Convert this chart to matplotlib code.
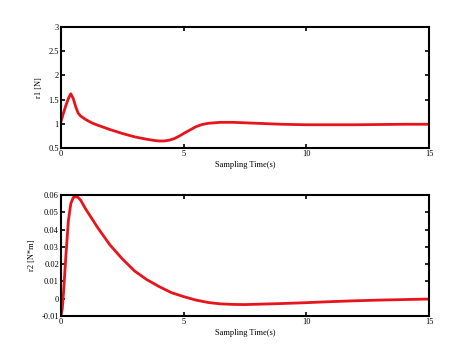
import matplotlib
matplotlib.use('Agg')
import matplotlib.pyplot as plt

# values
t1 = [0, 0.1, 0.2, 0.3, 0.4, 0.5, 0.6, 0.7, 0.8, 1.0, 1.25, 1.5, 2.0, 2.5, 3.0, 3.5, 3.8, 4.0, 4.2,
      4.4, 4.6, 4.8, 5.0, 5.25, 5.5, 5.75, 6.0, 6.5, 7.0, 7.5, 8.0, 9.0, 10.0, 11.0, 12.0, 13.0, 14.0, 15.0]
r1 = [1.05, 1.22, 1.38, 1.52, 1.62, 1.52, 1.35, 1.22, 1.16, 1.09, 1.02, 0.97, 0.88, 0.80, 0.73, 0.68, 0.655, 0.645, 0.645,
      0.66, 0.69, 0.74, 0.80, 0.87, 0.94, 0.985, 1.01, 1.03, 1.03, 1.02, 1.01, 0.99, 0.98, 0.98, 0.98, 0.985, 0.99, 0.99]

t2 = [0, 0.05, 0.1, 0.2, 0.3, 0.4, 0.5, 0.6, 0.7, 0.8, 1.0, 1.25, 1.5, 2.0, 2.5, 3.0, 3.5, 4.0, 4.5,
      5.0, 5.5, 6.0, 6.5, 7.0, 7.5, 8.0, 9.0, 10.0, 11.0, 12.0, 13.0, 14.0, 15.0]
r2 = [-0.01, -0.006, 0.003, 0.025, 0.045, 0.055, 0.0585, 0.059, 0.0585, 0.057, 0.052, 0.0465, 0.041, 0.031, 0.023, 0.016, 0.011, 0.007, 0.0035,
      0.0012, -0.0008, -0.0022, -0.003, -0.0033, -0.0034, -0.0032, -0.0028, -0.0023, -0.0017, -0.0012, -0.0008, -0.0005, -0.0002]

plt.rcParams['font.family'] = ['Liberation Serif', 'DejaVu Serif']
plt.rcParams['font.size'] = 6

fig = plt.figure(figsize=(4.74, 3.56), dpi=100)
ax1 = fig.add_axes([0.1287, 0.5843, 0.7764, 0.340])
ax2 = fig.add_axes([0.1287, 0.1124, 0.7764, 0.340])

for ax, t, r, ylab in [(ax1, t1, r1, 'r1 [N]'), (ax2, t2, r2, 'r2 [N*m]')]:
    ax.plot(t, r, color='#e8141b', linewidth=2)
    ax.set_xlim(0, 15)
    ax.set_xticks([0, 5, 10, 15])
    ax.set_xlabel('Sampling Time(s)', labelpad=2)
    ax.set_ylabel(ylab, labelpad=4)
    ax.tick_params(direction='in', top=True, right=True, length=3, width=1.2, pad=1.5)
    for s in ax.spines.values():
        s.set_linewidth(1.5)

ax1.set_ylim(0.5, 3)
ax1.set_yticks([0.5, 1, 1.5, 2, 2.5, 3])
ax1.set_yticklabels(['0.5', '1', '1.5', '2', '2.5', '3'])
ax2.set_ylim(-0.01, 0.06)
ax2.set_yticks([-0.01, 0, 0.01, 0.02, 0.03, 0.04, 0.05, 0.06])
ax2.set_yticklabels(['-0.01', '0', '0.01', '0.02', '0.03', '0.04', '0.05', '0.06'])

fig.savefig('out.png', dpi=100)
